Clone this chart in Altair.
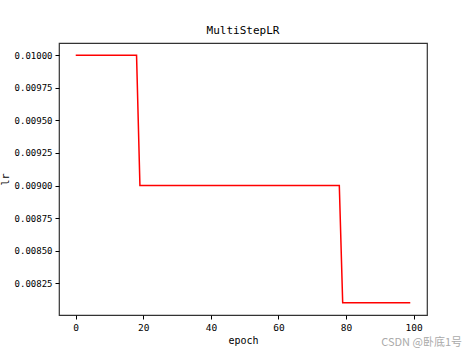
import altair as alt
import pandas as pd

epochs = list(range(100))
lr = [0.01] * 19 + [0.009] * 60 + [0.0081] * 21
x_ticks = [0, 20, 40, 60, 80, 100]
y_ticks = [0.00825, 0.0085, 0.00875, 0.009, 0.00925, 0.0095, 0.00975, 0.01]

df = pd.DataFrame({"epoch": epochs, "lr": lr})

FONT = "DejaVu Sans Mono"

line = alt.Chart(df).mark_line(color="#ff0000", strokeWidth=1.5, clip=True).encode(
    x=alt.X("epoch:Q",
            scale=alt.Scale(domain=[-4.95, 103.95], nice=False, zero=False),
            axis=alt.Axis(values=x_ticks, title="epoch", format="d", grid=False,
                          domain=False, tickColor="black", tickSize=4,
                          labelColor="black", labelFont=FONT, labelFontSize=9.5,
                          labelPadding=3, titleFont=FONT, titleFontSize=10,
                          titleFontWeight="normal", titleColor="black", titlePadding=4)),
    y=alt.Y("lr:Q",
            scale=alt.Scale(domain=[0.008005, 0.010095], nice=False, zero=False),
            axis=alt.Axis(values=y_ticks, title="lr", format=".5f", grid=False,
                          domain=False, tickColor="black", tickSize=4,
                          labelColor="black", labelFont=FONT, labelFontSize=9,
                          labelPadding=3, titleFont=FONT, titleFontSize=10,
                          titleFontWeight="normal", titleColor="black", titlePadding=4)),
)

watermark = alt.Chart(pd.DataFrame({"t": ["CSDN @卧底1号"]})).mark_text(
    font="Noto Sans CJK SC", fontSize=11, color="#aaaaaa", align="right", baseline="middle"
).encode(text="t:N", x=alt.value(403), y=alt.value(300))

chart = alt.layer(line, watermark).properties(
    width=368, height=272,
    background="white",
    title=alt.TitleParams("MultiStepLR", font=FONT, fontSize=11, fontWeight="normal",
                          color="black", offset=7),
    autosize=alt.AutoSizeParams(type="none"),
    padding={"left": 59, "top": 43, "right": 47, "bottom": 40},
).configure_view(stroke="#333333", strokeWidth=1.2)

chart.save("out.html", embed_options={"renderer": "svg", "actions": False})
